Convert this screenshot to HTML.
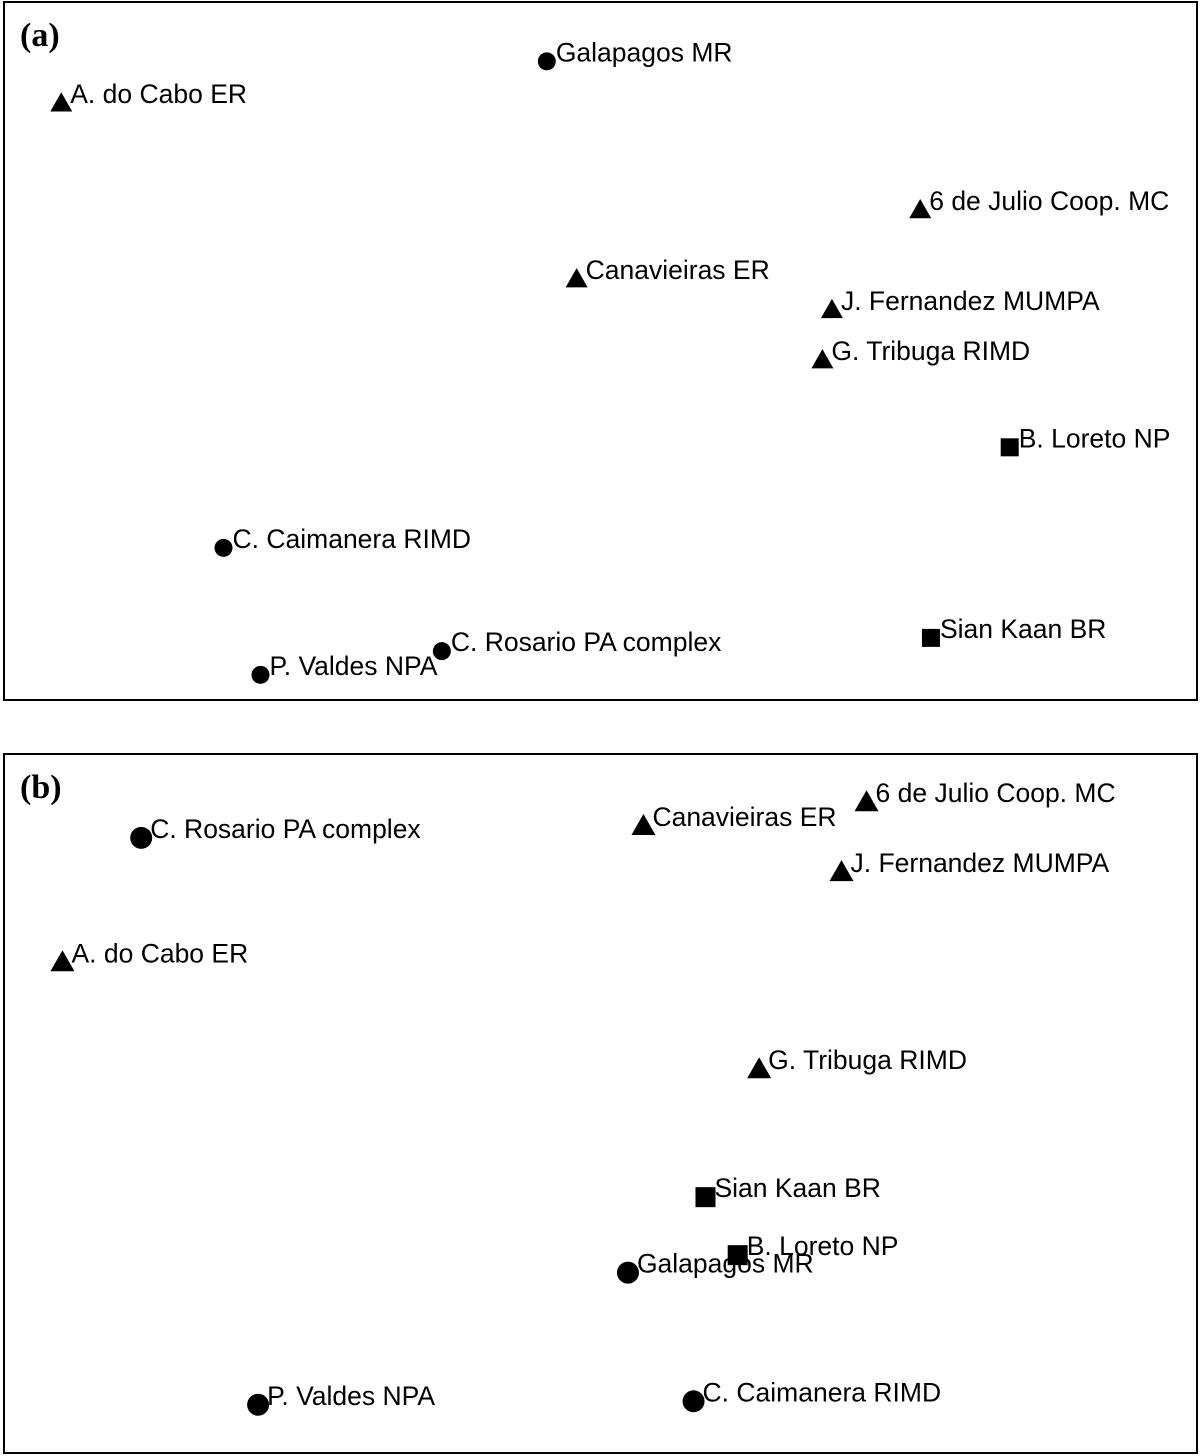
<!DOCTYPE html>
<html><head><meta charset="utf-8">
<style>
html,body{margin:0;padding:0;background:#fff;}
svg{display:block;}
text{font-family:"Liberation Sans",Arial,sans-serif;}
</style></head>
<body>
<svg id="chart" width="1200" height="1456" viewBox="0 0 1200 1456" xmlns="http://www.w3.org/2000/svg"></svg>
<script>
const sites = ["Galapagos MR","A. do Cabo ER","6 de Julio Coop. MC","Canavieiras ER","J. Fernandez MUMPA","G. Tribuga RIMD","B. Loreto NP","C. Caimanera RIMD","C. Rosario PA complex","P. Valdes NPA","Sian Kaan BR"];
const shapes = ["circle","triangle","triangle","triangle","triangle","triangle","square","circle","circle","circle","square"];
const panelA_x = [45.5,4.8,76.8,48.0,69.4,68.6,84.3,18.4,36.7,21.5,77.7];
const panelA_y = [91.5,85.5,70.2,60.3,55.9,48.7,36.2,21.8,7.0,3.6,8.9];
const panelB_x = [52.3,4.9,72.3,53.6,70.2,63.3,61.5,57.8,11.5,21.3,58.8];
const panelB_y = [25.8,70.2,93.1,89.7,83.1,54.9,28.3,7.4,88.0,6.9,36.6];

const NS="http://www.w3.org/2000/svg";
const svg=document.getElementById('chart');
function mk(tag,attrs,parent){const e=document.createElementNS(NS,tag);for(const k in attrs)e.setAttribute(k,attrs[k]);parent.appendChild(e);return e;}

function drawPanel(key,label,box,xs,ys,ms){
  const g=mk('g',{},svg);
  
  
  const r=mk('rect',{x:box.x,y:box.y,width:box.w,height:box.h,fill:'none',stroke:'#000','stroke-width':2},g);
  
  
  const t=mk('text',{x:box.x+16,y:box.y+44,style:'font-family:"Liberation Serif",serif;font-size:34px;font-weight:bold'},g);
  t.textContent=label;
  
  
  const sx=v=>box.x+v/100*box.w;
  const sy=v=>box.y+(100-v)/100*box.h;
  for(let i=0;i<sites.length;i++){
    const cx=sx(xs[i]),cy=sy(ys[i]);
    const pg=mk('g',{},g);
    
    
    let m;
    if(shapes[i]==='circle') m=mk('circle',{cx:cx,cy:cy,r:ms.c,fill:'#000'},pg);
    else if(shapes[i]==='square') m=mk('rect',{x:cx-ms.s,y:cy-ms.s,width:2*ms.s,height:2*ms.s,fill:'#000'},pg);
    else m=mk('polygon',{points:`${cx},${cy-ms.t} ${cx-ms.t*1.0},${cy+ms.t*0.75} ${cx+ms.t*1.0},${cy+ms.t*0.75}`,fill:'#000'},pg);
    
    
    const lt=mk('text',{x:cx+9,y:cy-0,'font-size':26.5},pg);
    lt.textContent=sites[i];
    
    
  }
}
drawPanel('a','(a)',{x:4,y:2,w:1193,h:698},panelA_x,panelA_y,{c:9,s:9,t:11});
drawPanel('b','(b)',{x:4,y:754,w:1193,h:699},panelB_x,panelB_y,{c:11,s:10,t:12});
</script>
</body></html>
